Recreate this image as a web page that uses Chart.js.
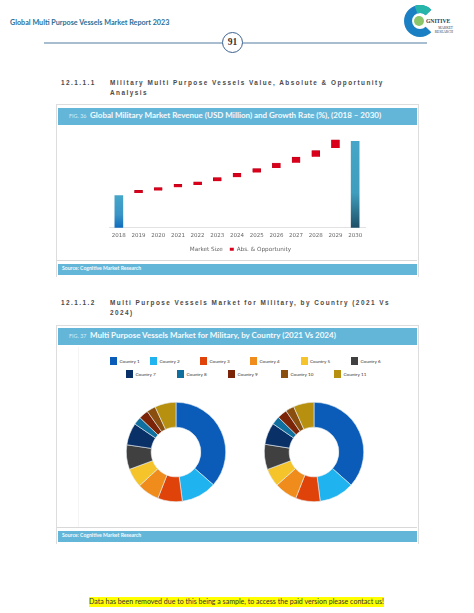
<!DOCTYPE html>
<html>
<head>
<meta charset="utf-8">
<title>Global Multi Purpose Vessels Market Report 2023</title>
<script src="https://cdn.jsdelivr.net/npm/chart.js@4"></script>
<style>
    html, body { margin: 0; padding: 0; background: #fff; }
    #page { position: relative; width: 474px; height: 613px; overflow: hidden; font-family: Lato, sans-serif; }
    #page > * { position: absolute; }
    .line { white-space: nowrap; }
    .report { left: 10px; top: 17px; font-size: 7.2px; line-height: 11px; font-weight: 700; color: #2f6f96; }
    .rule { left: 44px; top: 42px; width: 383px; height: 2px; background: #a9bdd0; }
    .pageno { left: 222px; top: 32px; width: 19px; height: 19px; border: 1.5px solid #3d618f; border-radius: 50%; background: #fff;
        font: bold 9.5px/19px "Liberation Serif", serif; text-align: center; color: #333; }
    .head { font: bold 6.4px/10px "Liberation Sans", sans-serif; letter-spacing: 1.47px; color: #4a4a4a; }
    .frame { left: 56px; width: 361px; border-top: 1px solid #ddd; border-left: 1px solid #ddd; border-right: 1px solid #ddd; }
    .bar { left: 58px; width: 359px; background: #64b6d9; color: #f4fafd; }
    .title { font-size: 8px; line-height: 14px; font-weight: 700; padding-left: 11px; box-sizing: border-box; white-space: nowrap; }
    .title small { display: inline-block; width: 21px; font-size: 5.4px; font-weight: 400; color: #d5edf7; }
    .source { font-size: 5.1px; line-height: 9px; font-weight: 700; padding-left: 4px; box-sizing: border-box; }
    .sep { left: 57px; width: 360px; height: 1px; background: #d8d8d8; }
    .note { left: 89px; top: 597px; height: 10px; width: 295px; background: #ffff00; font-size: 7.05px; line-height: 10px; color: #333; white-space: nowrap; }
    #legendRows { left: 0; top: 0; }
    .swatch { position: absolute; width: 7px; height: 8px; }
    .lbl { position: absolute; font-size: 4.6px; line-height: 8px; color: #333; white-space: nowrap; }
    canvas { display: block; }
</style>
</head>
<body>
<div id="page">
    <div class="report line">Global Multi Purpose Vessels Market Report 2023</div>
    <div class="rule"></div>
    <div class="pageno">91</div>
    <svg style="left:403px;top:5px" width="54" height="34" viewBox="0 0 54 34">
        <path d="M25.5 7.5 A12 12 0 1 0 25.5 24.5" fill="none" stroke="#1b7fc4" stroke-width="8"/>
        <path d="M13 4.7 A12 12 0 0 1 25.5 7.5" fill="none" stroke="#26b5a8" stroke-width="8"/>
        <circle cx="16" cy="16" r="5" fill="#8cc66a"/>
        <text x="23" y="18" font-family="Liberation Serif" font-weight="bold" font-size="5.6" fill="#24405e">GNITIVE</text>
        <text x="50" y="23.5" text-anchor="end" font-family="Liberation Serif" font-size="3.5" fill="#24405e">MARKET</text>
        <text x="50" y="27.5" text-anchor="end" font-family="Liberation Serif" font-size="3.5" fill="#24405e">RESEARCH</text>
    </svg>

    <div class="head line" style="left:61px;top:78px">12.1.1.1</div>
    <div class="head line" style="left:110px;top:78px">Military Multi Purpose Vessels Value, Absolute &amp; Opportunity</div>
    <div class="head line" style="left:110px;top:88px">Analysis</div>

    <div class="frame" style="top:104px;height:172px"></div>
    <div class="bar title" style="top:108px;height:17px"><small>FIG. 36</small>Global Military Market Revenue (USD Million) and Growth Rate (%), (2018 – 2030)</div>
    <canvas id="waterfallChart" width="359" height="136" style="left:58px;top:126px"></canvas>
    <div class="sep" style="top:260px"></div>
    <div class="bar source" style="top:264px;height:11px">Source: Cognitive Market Research</div>

    <div class="head line" style="left:61px;top:298px">12.1.1.2</div>
    <div class="head line" style="left:110px;top:298px">Multi Purpose Vessels Market for Military, by Country (2021 Vs</div>
    <div class="head line" style="left:110px;top:308px">2024)</div>

    <div class="frame" style="top:325px;height:218px"></div>
    <div class="bar title" style="top:328px;height:17px"><small>FIG. 37</small>Multi Purpose Vessels Market for Military, by Country (2021 Vs 2024)</div>
    <div style="left:78px;top:347px;width:1px;height:180px;background:#f4f4f4"></div>
    <div id="legendRows"></div>
    <canvas id="donut2021" width="110" height="110" style="left:121px;top:397px"></canvas>
    <canvas id="donut2024" width="110" height="110" style="left:259px;top:397px"></canvas>
    <div class="sep" style="top:527px"></div>
    <div class="bar source" style="top:531px;height:11px">Source: Cognitive Market Research</div>

    <div class="note">Data has been removed due to this being a sample, to access the paid version please contact us!</div>
</div>

<script>
// Waterfall data
const years = ['2018', '2019', '2020', '2021', '2022', '2023', '2024', '2025', '2026', '2027', '2028', '2029', '2030'];
const marketSize = [327, null, null, null, null, null, null, null, null, null, null, null, 877];
const oppLow = [null, 353, 377, 410, 433, 473, 513, 560, 607, 660, 720, 810, null];
const oppHigh = [null, 380, 407, 440, 467, 510, 553, 600, 657, 717, 783, 893, null];

// Donut data, share in %
const countries = ['Country 1', 'Country 2', 'Country 3', 'Country 4', 'Country 5', 'Country 6',
    'Country 7', 'Country 8', 'Country 9', 'Country 10', 'Country 11'];
const share2021 = [36.5, 11.5, 8.0, 7.2, 6.2, 8.0, 7.2, 2.6, 3.1, 2.9, 6.9];
const share2024 = [36.6, 11.4, 8.0, 7.4, 5.9, 8.2, 7.1, 2.7, 3.2, 2.8, 6.7];
const countryColors = ['#0a5cb8', '#1fb3f0', '#e0430a', '#ef8c1c', '#f5c42a', '#404040',
    '#0a3068', '#0f6f9f', '#7c2408', '#8a4f0e', '#b8900f'];

// Gradient for the two solid bars
function barGradient(context) {
    const chart = context.chart;
    const value = marketSize[context.dataIndex];
    if (!chart.chartArea || value === null || value === undefined) return '#45a5c8';
    const y = chart.scales.y;
    const isLast = context.dataIndex === years.length - 1;
    const g = chart.ctx.createLinearGradient(0, y.getPixelForValue(value), 0, y.getPixelForValue(0));
    g.addColorStop(0, '#45a6c9');
    g.addColorStop(0.6, isLast ? '#3f9dbd' : '#3a94c6');
    g.addColorStop(1, isLast ? '#1d4f66' : '#0f6cbd');
    return g;
}

new Chart(document.getElementById('waterfallChart'), {
    type: 'bar',
    data: {
        labels: years,
        datasets: [
            {
                label: 'Market Size',
                data: marketSize,
                backgroundColor: barGradient,
                barThickness: 8,
                grouped: false
            },
            {
                label: 'Abs. & Opportunity',
                data: years.map((y, i) => oppLow[i] === null ? null : [oppLow[i], oppHigh[i]]),
                backgroundColor: '#d9001b',
                borderColor: '#b00016',
                borderWidth: 0.5,
                barThickness: 8,
                grouped: false
            }
        ]
    },
    options: {
        responsive: false,
        animation: false,
        layout: { padding: { left: 51, right: 52, top: 0, bottom: 0 } },
        scales: {
            x: {
                grid: { display: false, drawTicks: false },
                border: { color: '#e2e2e2' },
                ticks: { color: '#666', font: { family: 'DejaVu Sans', size: 5.5 }, padding: 5, maxRotation: 0, autoSkip: false },
                // let the legend box sit closer, labels still draw below the axis
                afterFit: function(scale) { scale.height -= 5; }
            },
            y: { display: false, min: 0, max: 1033 }
        },
        plugins: {
            legend: {
                position: 'bottom',
                labels: {
                    boxWidth: 4,
                    boxHeight: 3,
                    padding: 7,
                    color: '#666',
                    font: { family: 'DejaVu Sans', size: 5.7 },
                    generateLabels: function() {
                        return [
                            { text: 'Market Size', fillStyle: 'rgba(0,0,0,0)', strokeStyle: 'rgba(0,0,0,0)', lineWidth: 0, fontColor: '#666', datasetIndex: 0 },
                            { text: 'Abs. & Opportunity', fillStyle: '#d9001b', strokeStyle: '#d9001b', lineWidth: 0, fontColor: '#666', datasetIndex: 1 }
                        ];
                    }
                }
            },
            tooltip: { enabled: false }
        }
    }
});

function drawDonut(id, values) {
    new Chart(document.getElementById(id), {
        type: 'doughnut',
        data: {
            labels: countries,
            datasets: [{
                data: values,
                backgroundColor: countryColors,
                borderColor: '#e8eef2',
                borderWidth: 0.6
            }]
        },
        options: {
            responsive: false,
            animation: false,
            cutout: '50%',
            layout: { padding: 5 },
            plugins: { legend: { display: false }, tooltip: { enabled: false } }
        }
    });
}
drawDonut('donut2021', share2021);
drawDonut('donut2024', share2024);

// Legend of the country chart, two rows of real text
const legendLeft = [110, 150, 200, 250, 300.5, 351, 126, 177, 228, 281, 334];

function legendItem(i, top) {
    const left = legendLeft[i];
    const box = document.createElement('div');
    box.className = 'swatch';
    box.style.left = left + 'px';
    box.style.top = top + 'px';
    box.style.background = countryColors[i];
    const txt = document.createElement('div');
    txt.className = 'lbl';
    txt.style.left = (left + 9.5) + 'px';
    txt.style.top = top + 'px';
    txt.textContent = countries[i];
    document.getElementById('legendRows').append(box, txt);
}
countries.forEach(function(name, i) {
    legendItem(i, i < 6 ? 357 : 370);
});
</script>
</body>
</html>
